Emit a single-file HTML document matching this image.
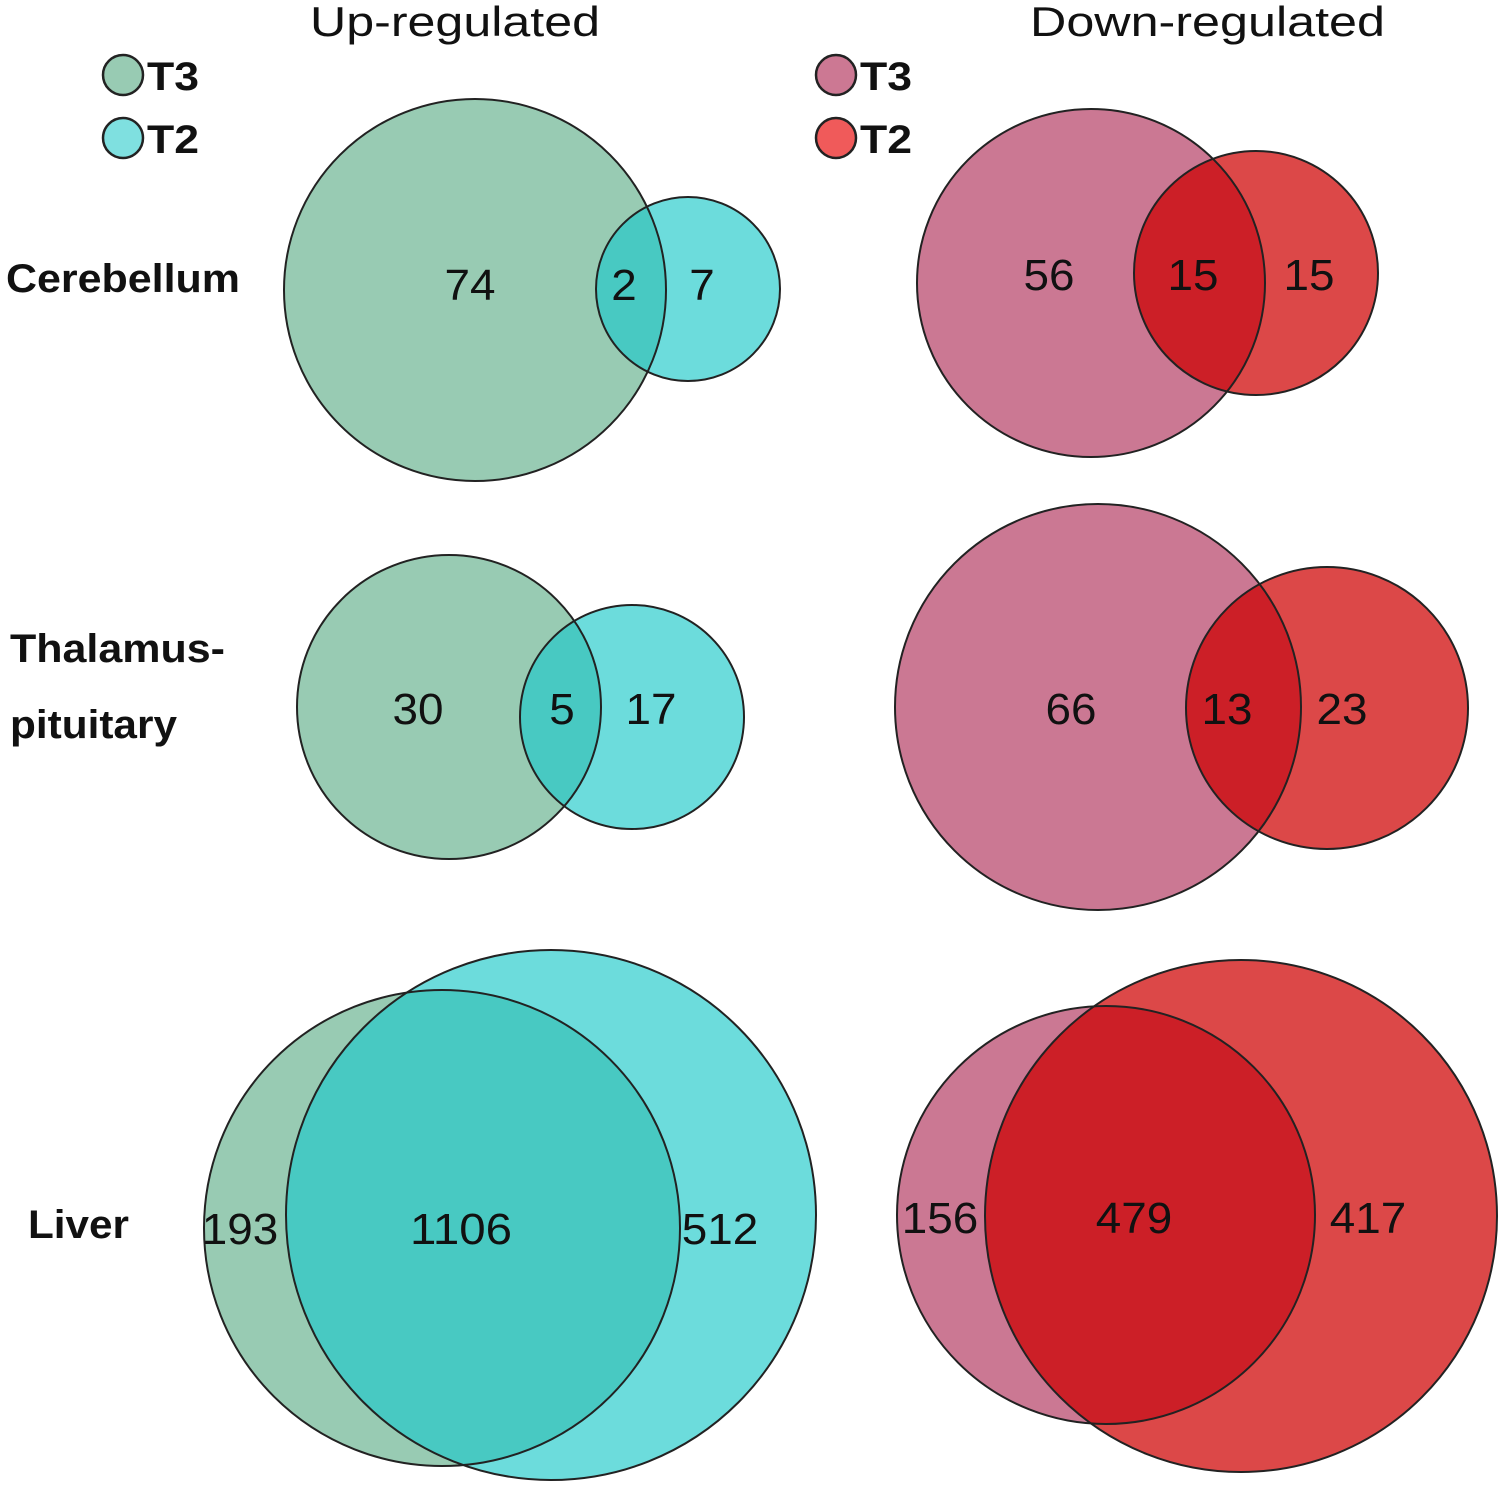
<!DOCTYPE html>
<html><head><meta charset="utf-8"><style>
html,body{margin:0;padding:0;background:#fff;}
svg{display:block;}
text{font-family:"Liberation Sans",sans-serif;fill:#111;}
</style></head><body>
<svg id="chart" width="1500" height="1487" viewBox="0 0 1500 1487" xmlns="http://www.w3.org/2000/svg">
<text x="310" y="36" font-size="42" textLength="290" lengthAdjust="spacingAndGlyphs">Up-regulated</text>
<text x="1030" y="36" font-size="42" textLength="355" lengthAdjust="spacingAndGlyphs">Down-regulated</text>
<g>
<circle cx="123" cy="75" r="20" fill="#98cbb3" stroke="#222" stroke-width="2.5"/>
<text x="147" y="90" font-size="40" font-weight="bold" textLength="52" lengthAdjust="spacingAndGlyphs">T3</text>
<circle cx="123" cy="138" r="20" fill="#7fe0e0" stroke="#222" stroke-width="2.5"/>
<text x="147" y="153" font-size="40" font-weight="bold" textLength="52" lengthAdjust="spacingAndGlyphs">T2</text>
</g>
<g>
<circle cx="836" cy="75" r="20" fill="#cc7893" stroke="#222" stroke-width="2.5"/>
<text x="860" y="90" font-size="40" font-weight="bold" textLength="52" lengthAdjust="spacingAndGlyphs">T3</text>
<circle cx="836" cy="138" r="20" fill="#f05a5a" stroke="#222" stroke-width="2.5"/>
<text x="860" y="153" font-size="40" font-weight="bold" textLength="52" lengthAdjust="spacingAndGlyphs">T2</text>
</g>
<text x="6" y="292" font-size="40" font-weight="bold" textLength="234" lengthAdjust="spacingAndGlyphs">Cerebellum</text>
<text x="10" y="662" font-size="40" font-weight="bold" textLength="215" lengthAdjust="spacingAndGlyphs">Thalamus-</text>
<text x="10" y="738" font-size="40" font-weight="bold" textLength="167" lengthAdjust="spacingAndGlyphs">pituitary</text>
<text x="28" y="1238" font-size="40" font-weight="bold" textLength="101" lengthAdjust="spacingAndGlyphs">Liver</text>
</svg>
<script>
// data
const tissues = ["cerebellum","thalamus-pituitary","liver"];
const upOnlyT3 = [74, 30, 193];
const upShared = [2, 5, 1106];
const upOnlyT2 = [7, 17, 512];
const downOnlyT3 = [56, 66, 156];
const downShared = [15, 13, 479];
const downOnlyT2 = [15, 23, 417];
// layout (not data): circle geometry per panel
const layout = {
  up: [
    {a:[475,290,191], b:[688,289,92], lab:[470,702,624,300]},
    {a:[449,707,152], b:[632,717,112], lab:[418,651,562,724]},
    {a:[442,1228,238], b:[551,1215,265], lab:[240,720,461,1244]}
  ],
  down: [
    {a:[1091,283,174], b:[1256,273,122], lab:[1049,1309,1193,290]},
    {a:[1098,707,203], b:[1327,708,141], lab:[1071,1342,1227,724]},
    {a:[1106,1215,209], b:[1241,1216,256], lab:[940,1368,1134,1233]}
  ]
};
const cols = {
  up:{a:"#98cbb3", b:"#6cdcdc", ab:"#48c9c2"},
  down:{a:"#cb7893", b:"#dc4848", ab:"#cc1f27"}
};
const NS = "http://www.w3.org/2000/svg";
const svg = document.getElementById("chart");
const defs = document.createElementNS(NS,"defs");
svg.appendChild(defs);
function mk(tag, attrs){const e=document.createElementNS(NS,tag);for(const k in attrs)e.setAttribute(k,attrs[k]);return e;}
function panel(dir, i, onlyA, shared, onlyB){
  const L = layout[dir][i], C = cols[dir];
  const g = mk("g",{});
  
  
  const cp = mk("clipPath",{id:"clip-"+dir+i});
  cp.appendChild(mk("circle",{cx:L.a[0],cy:L.a[1],r:L.a[2]}));
  defs.appendChild(cp);
  const ca = mk("circle",{cx:L.a[0],cy:L.a[1],r:L.a[2],fill:C.a});
  
  
  const cb = mk("circle",{cx:L.b[0],cy:L.b[1],r:L.b[2],fill:C.b});
  
  
  const cab = mk("circle",{cx:L.b[0],cy:L.b[1],r:L.b[2],fill:C.ab,"clip-path":"url(#clip-"+dir+i+")"});
  
  
  g.appendChild(ca); g.appendChild(cb); g.appendChild(cab);
  g.appendChild(mk("circle",{cx:L.a[0],cy:L.a[1],r:L.a[2],fill:"none",stroke:"#222","stroke-width":2}));
  g.appendChild(mk("circle",{cx:L.b[0],cy:L.b[1],r:L.b[2],fill:"none",stroke:"#222","stroke-width":2}));
  const vals = [[onlyA[i],L.lab[0],'t3-only'],[onlyB[i],L.lab[1],'t2-only'],[shared[i],L.lab[2],'shared']];
  vals.forEach(v=>{
    const t = mk("text",{x:v[1],y:L.lab[3],"font-size":44,"text-anchor":"middle"});
    
    
    t.textContent = v[0];
    t.setAttribute('textLength', String(v[0]).length*25.5);
    t.setAttribute('lengthAdjust', 'spacingAndGlyphs');
    g.appendChild(t);
  });
  svg.appendChild(g);
}
for(let i=0;i<3;i++){
  panel("up", i, upOnlyT3, upShared, upOnlyT2);
  panel("down", i, downOnlyT3, downShared, downOnlyT2);
}
</script>
</body></html>
